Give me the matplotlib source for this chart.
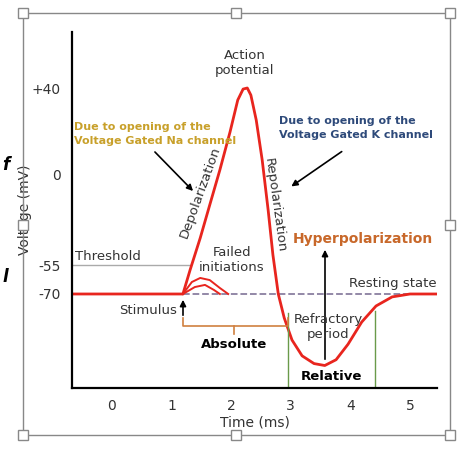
import numpy as np
import matplotlib.pyplot as plt
from matplotlib.patches import Rectangle

# action potential trace (ms, mV)
t_ms = [-0.67, 1.19, 1.31, 1.48, 1.64, 1.81, 1.98, 2.11, 2.20, 2.27, 2.33, 2.42, 2.52, 2.62,
        2.70, 2.79, 2.89, 3.02, 3.19, 3.39, 3.57, 3.76, 3.96, 4.19, 4.43, 4.70, 5.0, 5.45]
v_mv = [-70, -70, -57.6, -38.7, -18.7, 1.9, 19.5, 34.4, 39.5, 40, 36.7, 25.1, 6.5, -21.8,
        -48.9, -70, -82.4, -93.8, -102, -106, -107, -104, -96, -84.5, -76.2, -71.5, -70, -70]
fail1_t = [1.19, 1.34, 1.48, 1.64, 1.81, 1.95]
fail1_v = [-70, -63.8, -61.7, -62.8, -66.9, -70]
fail2_t = [1.19, 1.39, 1.56, 1.71, 1.81]
fail2_v = [-70, -66.4, -65.3, -67.9, -70]
ytick_mv = [40, 0, -55, -70]
ytick_lbl = ['+40', '0', '-55', '-70']
xticks = [0, 1, 2, 3, 4, 5]

X0, PPM = 112, 59.6  # pixel of t=0, pixels per ms

def ymap(v):
    # schematic (non-linear) voltage axis of the drawing
    v = np.asarray(v, dtype=float)
    y = np.where(v >= 0, 174 - v * 2.15,
        np.where(v >= -55, 174 - v * 1.655, 265 + (-55 - v) * 1.933))
    return -y

def px(x, y):
    return ((x - X0) / PPM, -y)

fig = plt.figure(figsize=(4.74, 4.54), dpi=100)
ax = fig.add_axes([72 / 474, 66 / 454, 365 / 474, 356 / 454])
ax.set_xlim(px(72, 0)[0], px(437, 0)[0])
ax.set_ylim(-388, -32)
for s in ['top', 'right']:
    ax.spines[s].set_visible(False)
for s in ['left', 'bottom']:
    ax.spines[s].set_linewidth(1.6)
ax.set_xticks(xticks)
ax.set_yticks(ymap(ytick_mv))
ax.set_yticklabels(ytick_lbl)
ax.tick_params(length=0, labelsize=10, colors='#333333', pad=8)
ax.set_xlabel('Time (ms)', fontsize=10, color='#333333', labelpad=2)
ax.set_ylabel('Voltage (mV)', fontsize=10, color='#333333', labelpad=0)

red = '#e8251e'
ax.plot(*px(72, 265), 'none')
ax.plot([px(72, 0)[0], px(190, 0)[0]], ymap([-55, -55]), color='#aaaaaa', lw=1)
ax.plot([1.19, 5.0], ymap([-70, -70]), color='#8a7fa0', lw=1.3, ls='--')
ax.plot(t_ms, ymap(v_mv), color=red, lw=2)
ax.plot(fail1_t, ymap(fail1_v), color=red, lw=1.4)
ax.plot(fail2_t, ymap(fail2_v), color=red, lw=1.4)

# green refractory lines
ax.plot([2.95, 2.95], [ymap(-80), -388], color='#6a9a4a', lw=1)
ax.plot([4.42, 4.42], [ymap(-79), -388], color='#6a9a4a', lw=1)
# absolute bracket
br = '#d08040'
ax.plot([1.19, 1.19, 2.95, 2.95], [-318, -326, -326, -318], color=br, lw=1.2)
ax.plot([2.05, 2.05], [-326, -334], color=br, lw=1.2)

arw = dict(arrowstyle='-|>', color='black', lw=1.2, mutation_scale=9)
ax.annotate('', xy=px(183, 297), xytext=px(183, 318), arrowprops=arw)
ax.annotate('', xy=px(325, 247), xytext=px(325, 362), arrowprops=arw)
ax.annotate('', xy=px(195, 193), xytext=px(153, 150), arrowprops=arw)
ax.annotate('', xy=px(289, 188), xytext=px(344, 150), arrowprops=arw)

def txt(x, y, s, **kw):
    kw.setdefault('fontsize', 9.5)
    kw.setdefault('color', '#333333')
    kw.setdefault('ha', 'center')
    kw.setdefault('va', 'center')
    ax.text(*px(x, y), s, **kw)

txt(245, 63, 'Action\npotential')
txt(200, 192, 'Depolarization', rotation=70)
txt(275, 205, 'Repolarization', rotation=-82)
txt(232, 260, 'Failed\ninitiations')
txt(75, 256, 'Threshold', ha='left')
txt(437, 284, 'Resting state', ha='right')
txt(148, 310, 'Stimulus')
txt(328, 327, 'Refractory\nperiod')
txt(234, 345, 'Absolute', fontweight='bold', color='black')
txt(331, 376, 'Relative', fontweight='bold', color='black')
txt(363, 239, 'Hyperpolarization', fontweight='bold', color='#c8682a', fontsize=10)
txt(74, 134, 'Due to opening of the\nVoltage Gated Na channel', ha='left',
    fontweight='bold', color='#c8a02a', fontsize=8, linespacing=1.5)
txt(279, 128, 'Due to opening of the\nVoltage Gated K channel', ha='left',
    fontweight='bold', color='#2e4a7a', fontsize=8, linespacing=1.5)

# screenshot selection frame with handles
fig.patches.append(Rectangle((23 / 474, 19 / 454), 427 / 474, 422 / 454, transform=fig.transFigure,
                             fill=False, ec='#888888', lw=1))
for hx in [23, 236, 450]:
    for hy in [13, 225, 435]:
        if hx == 236 and hy == 225:
            continue
        fig.patches.append(Rectangle(((hx - 5) / 474, (454 - hy - 5) / 454), 10 / 474, 10 / 454,
                                     transform=fig.transFigure, fc='white', ec='#888888', lw=1))
fig.text(2 / 474, 1 - 165 / 454, 'f', fontsize=12, fontweight='bold', style='italic', va='center')
fig.text(2 / 474, 1 - 277 / 454, 'l', fontsize=12, fontweight='bold', style='italic', va='center')

fig.savefig('out.png', dpi=100)
